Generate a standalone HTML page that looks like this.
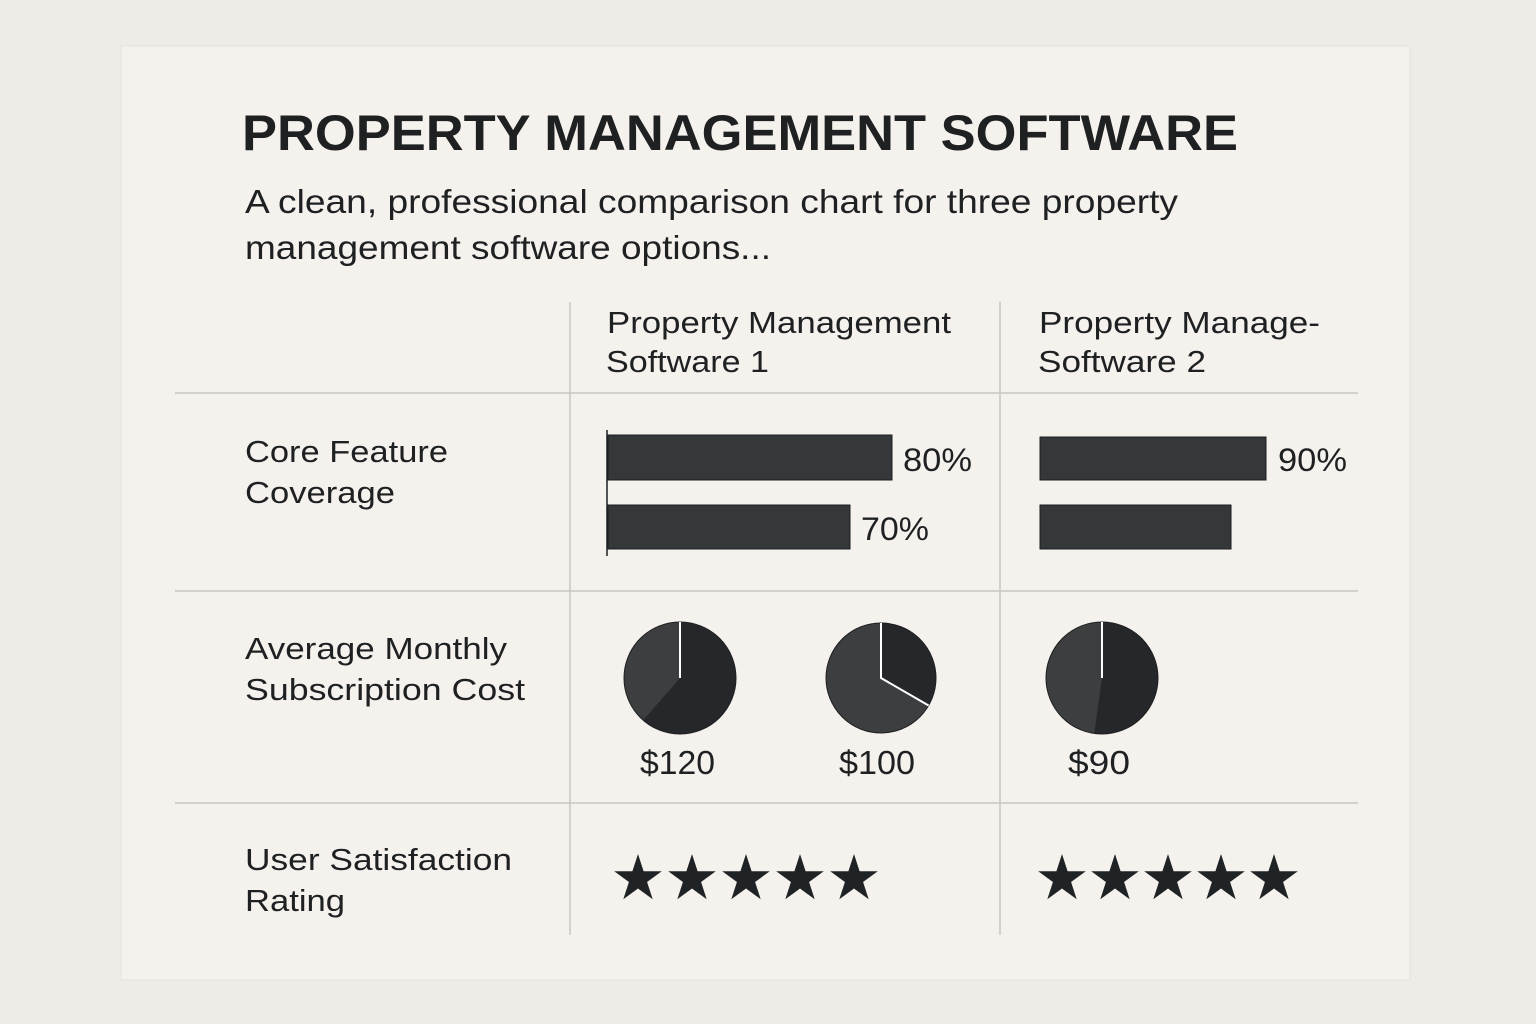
<!DOCTYPE html>
<html><head><meta charset="utf-8"><style>
html,body{margin:0;padding:0;background:#efebe6;}
svg{display:block;}
text{font-family:"Liberation Sans",sans-serif;fill:#1e2022;}
</style></head><body>
<svg width="1536" height="1024" viewBox="0 0 1536 1024" xmlns="http://www.w3.org/2000/svg">
<defs>
<polygon id="st" points="0,-25 5.61,-7.73 23.78,-7.73 9.08,2.95 14.69,20.23 0,9.55 -14.69,20.23 -9.08,2.95 -23.78,-7.73 -5.61,-7.73" fill="#202325"/>
</defs>
<rect x="0" y="0" width="1536" height="1024" fill="#efebe6"/>
<rect x="121" y="46" width="1289" height="934" fill="#f5f2ee" stroke="#e6e1da" stroke-width="1"/>
<text x="242" y="150" font-size="50" font-weight="bold" textLength="996" lengthAdjust="spacingAndGlyphs">PROPERTY MANAGEMENT SOFTWARE</text>
<text x="245" y="213" font-size="33" textLength="933" lengthAdjust="spacingAndGlyphs">A clean, professional comparison chart for three property</text>
<text x="245" y="259" font-size="33" textLength="526" lengthAdjust="spacingAndGlyphs">management software options...</text>
<g stroke="#c9c5bf" stroke-width="1.5">
<line x1="175" y1="393" x2="1358" y2="393"/>
<line x1="175" y1="591" x2="1358" y2="591"/>
<line x1="175" y1="803" x2="1358" y2="803"/>
<line x1="570" y1="302" x2="570" y2="935"/>
<line x1="1000" y1="302" x2="1000" y2="935"/>
</g>
<text x="607" y="333" font-size="31" textLength="344" lengthAdjust="spacingAndGlyphs">Property Management</text>
<text x="606" y="372" font-size="31" textLength="163" lengthAdjust="spacingAndGlyphs">Software 1</text>
<text x="1039" y="333" font-size="31" textLength="281" lengthAdjust="spacingAndGlyphs">Property Manage-</text>
<text x="1038" y="372" font-size="31" textLength="168" lengthAdjust="spacingAndGlyphs">Software 2</text>
<text x="245" y="462" font-size="31" textLength="203" lengthAdjust="spacingAndGlyphs">Core Feature</text>
<text x="245" y="503" font-size="31" textLength="150" lengthAdjust="spacingAndGlyphs">Coverage</text>
<text x="245" y="659" font-size="31" textLength="262" lengthAdjust="spacingAndGlyphs">Average Monthly</text>
<text x="245" y="700" font-size="31" textLength="280" lengthAdjust="spacingAndGlyphs">Subscription Cost</text>
<text x="245" y="870" font-size="31" textLength="267" lengthAdjust="spacingAndGlyphs">User Satisfaction</text>
<text x="245" y="911" font-size="31" textLength="100" lengthAdjust="spacingAndGlyphs">Rating</text>
<g fill="#35383a" stroke="#1c1e20" stroke-width="1">
<rect x="608" y="435" width="284" height="45"/>
<rect x="608" y="505" width="242" height="44"/>
<rect x="1040" y="437" width="226" height="43"/>
<rect x="1040" y="505" width="191" height="44"/>
</g>
<line x1="607" y1="430" x2="607" y2="556" stroke="#1c1e20" stroke-width="1.5"/>
<text x="903" y="471" font-size="32" textLength="69" lengthAdjust="spacingAndGlyphs">80%</text>
<text x="861" y="540" font-size="32" textLength="68" lengthAdjust="spacingAndGlyphs">70%</text>
<text x="1278" y="471" font-size="32" textLength="69" lengthAdjust="spacingAndGlyphs">90%</text>
<circle cx="680" cy="678" r="56" fill="#3c3e40"/>
<path d="M680,678 L680,622 A56,56 0 1 1 643.3,720.3 Z" fill="#25272a"/>
<circle cx="680" cy="678" r="56" fill="none" stroke="#1c1e20" stroke-width="1"/>
<line x1="680" y1="678" x2="680" y2="622" stroke="#fff" stroke-width="2"/>
<circle cx="881" cy="678" r="55" fill="#3c3e40"/>
<path d="M881,678 L881,623 A55,55 0 0 1 928.6,705.5 Z" fill="#25272a"/>
<circle cx="881" cy="678" r="55" fill="none" stroke="#1c1e20" stroke-width="1"/>
<polyline points="881,623 881,678 928.6,705.5" fill="none" stroke="#fff" stroke-width="2"/>
<circle cx="1102" cy="678" r="56" fill="#3c3e40"/>
<path d="M1102,678 L1102,622 A56,56 0 1 1 1094.2,733.5 Z" fill="#25272a"/>
<circle cx="1102" cy="678" r="56" fill="none" stroke="#1c1e20" stroke-width="1"/>
<line x1="1102" y1="678" x2="1102" y2="622" stroke="#fff" stroke-width="2"/>
<text x="640" y="774" font-size="33" textLength="75" lengthAdjust="spacingAndGlyphs">$120</text>
<text x="839" y="774" font-size="33" textLength="76" lengthAdjust="spacingAndGlyphs">$100</text>
<text x="1068" y="774" font-size="33" textLength="62" lengthAdjust="spacingAndGlyphs">$90</text>
<use href="#st" x="638" y="879"/>
<use href="#st" x="692" y="879"/>
<use href="#st" x="746" y="879"/>
<use href="#st" x="800" y="879"/>
<use href="#st" x="854" y="879"/>
<use href="#st" x="1062" y="879"/>
<use href="#st" x="1115" y="879"/>
<use href="#st" x="1168" y="879"/>
<use href="#st" x="1221" y="879"/>
<use href="#st" x="1274" y="879"/>
</svg>
</body></html>
